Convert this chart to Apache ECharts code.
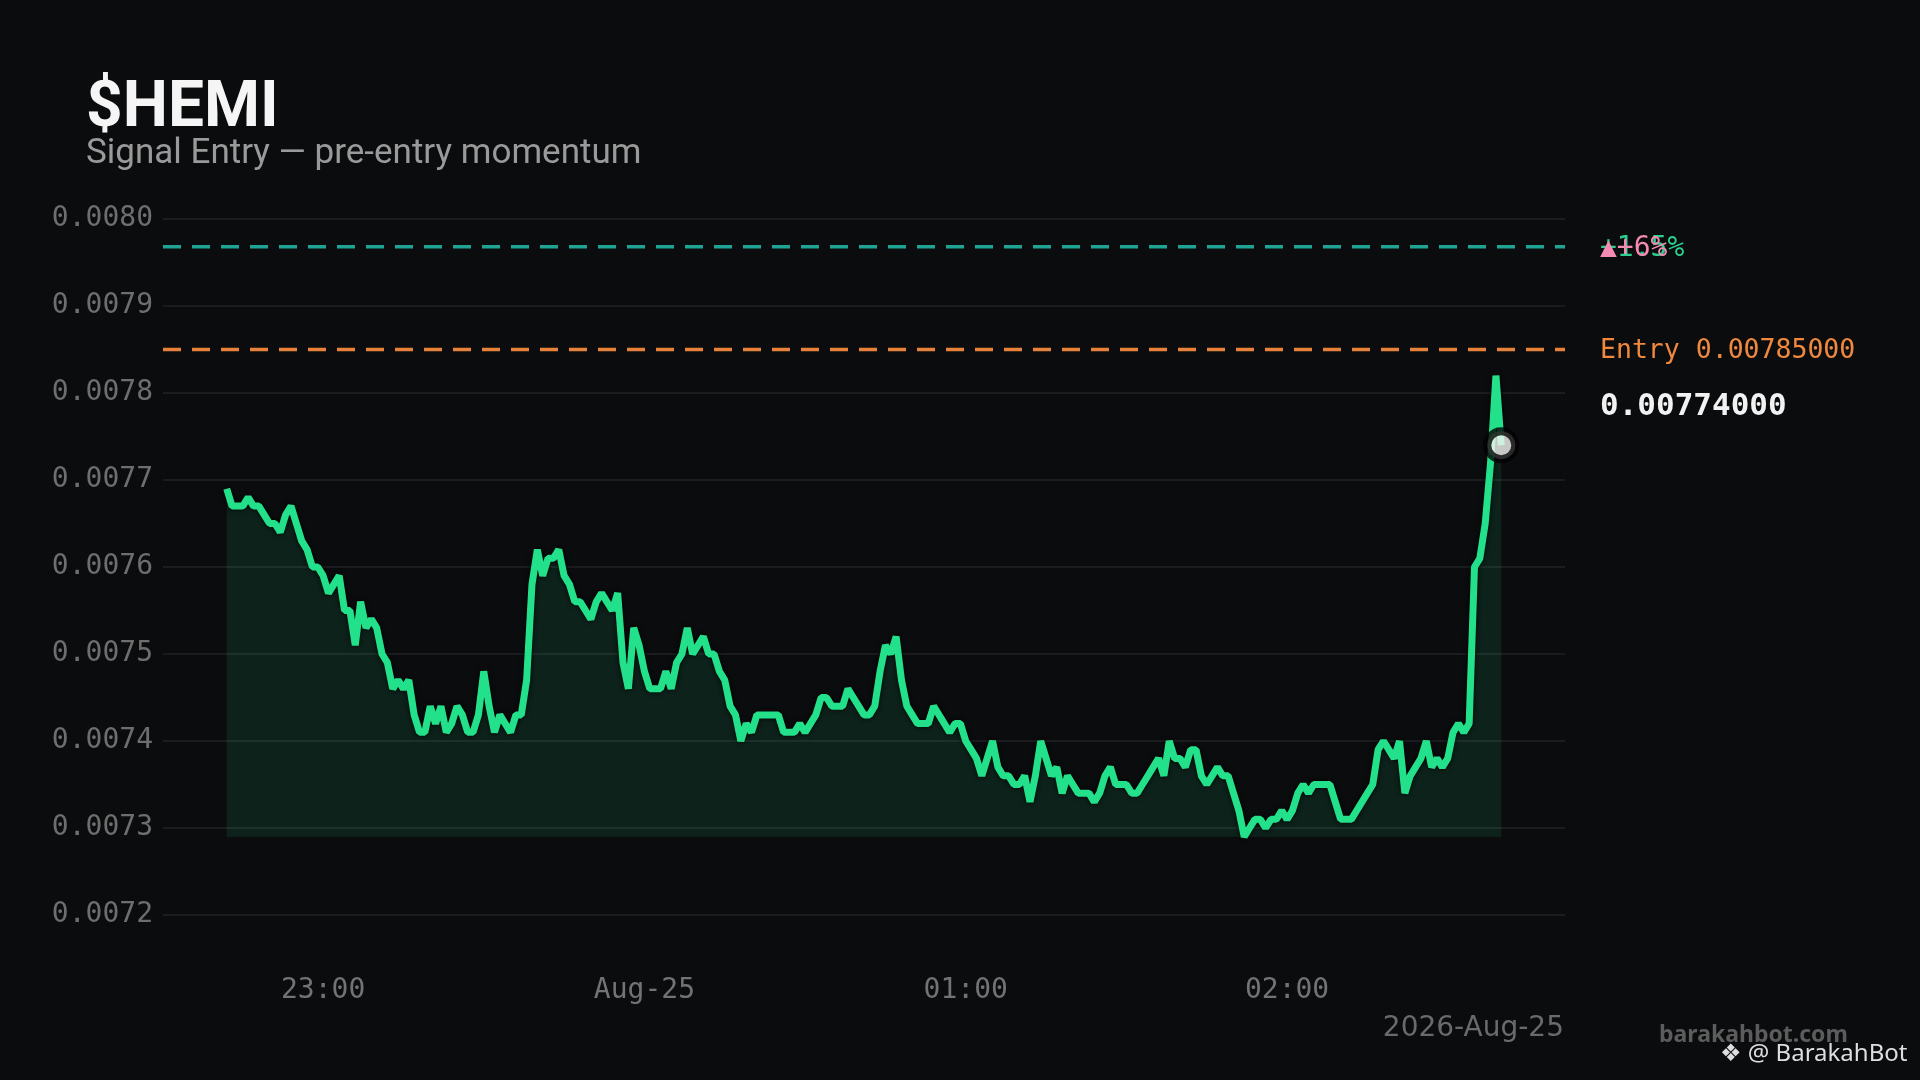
<!DOCTYPE html>
<html>
<head>
<meta charset="utf-8">
<script src="https://cdn.jsdelivr.net/npm/echarts@6/dist/echarts.min.js"></script>
<style>
  html, body { margin: 0; padding: 0; background: #0b0c0e; }
  #chart { width: 1920px; height: 1080px; }
</style>
</head>
<body>
<div id="chart"></div>
<script>
// 1-minute closes, 22:42 -> 02:40
const startTime = new Date(2026, 7, 24, 22, 42).getTime();
const stepMs = 60 * 1000;

const prices = [
  0.00769, 0.00767, 0.00767, 0.00767, 0.00768, 0.00767, 0.00767, 0.00766, 0.00765, 0.00765,
  0.00764, 0.00766, 0.00767, 0.00765, 0.00763, 0.00762, 0.00760, 0.00760, 0.00759, 0.00757,
  0.00758, 0.00759, 0.00755, 0.00755, 0.00751, 0.00756, 0.00753, 0.00754, 0.00753, 0.00750,
  0.00749, 0.00746, 0.00747, 0.00746, 0.00747, 0.00743, 0.00741, 0.00741, 0.00744, 0.00742,
  0.00744, 0.00741, 0.00742, 0.00744, 0.00743, 0.00741, 0.00741, 0.00743, 0.00748, 0.00744,
  0.00741, 0.00743, 0.00742, 0.00741, 0.00743, 0.00743, 0.00747, 0.00758, 0.00762, 0.00759,
  0.00761, 0.00761, 0.00762, 0.00759, 0.00758, 0.00756, 0.00756, 0.00755, 0.00754, 0.00756,
  0.00757, 0.00756, 0.00755, 0.00757, 0.00749, 0.00746, 0.00753, 0.00751, 0.00748, 0.00746,
  0.00746, 0.00746, 0.00748, 0.00746, 0.00749, 0.00750, 0.00753, 0.00750, 0.00751, 0.00752,
  0.00750, 0.00750, 0.00748, 0.00747, 0.00744, 0.00743, 0.00740, 0.00742, 0.00741, 0.00743,
  0.00743, 0.00743, 0.00743, 0.00743, 0.00741, 0.00741, 0.00741, 0.00742, 0.00741, 0.00742,
  0.00743, 0.00745, 0.00745, 0.00744, 0.00744, 0.00744, 0.00746, 0.00745, 0.00744, 0.00743,
  0.00743, 0.00744, 0.00748, 0.00751, 0.00750, 0.00752, 0.00747, 0.00744, 0.00743, 0.00742,
  0.00742, 0.00742, 0.00744, 0.00743, 0.00742, 0.00741, 0.00742, 0.00742, 0.00740, 0.00739,
  0.00738, 0.00736, 0.00738, 0.00740, 0.00737, 0.00736, 0.00736, 0.00735, 0.00735, 0.00736,
  0.00733, 0.00736, 0.00740, 0.00738, 0.00736, 0.00737, 0.00734, 0.00736, 0.00735, 0.00734,
  0.00734, 0.00734, 0.00733, 0.00734, 0.00736, 0.00737, 0.00735, 0.00735, 0.00735, 0.00734,
  0.00734, 0.00735, 0.00736, 0.00737, 0.00738, 0.00736, 0.00740, 0.00738, 0.00738, 0.00737,
  0.00739, 0.00739, 0.00736, 0.00735, 0.00736, 0.00737, 0.00736, 0.00736, 0.00734, 0.00732,
  0.00729, 0.00730, 0.00731, 0.00731, 0.00730, 0.00731, 0.00731, 0.00732, 0.00731, 0.00732,
  0.00734, 0.00735, 0.00734, 0.00735, 0.00735, 0.00735, 0.00735, 0.00733, 0.00731, 0.00731,
  0.00731, 0.00732, 0.00733, 0.00734, 0.00735, 0.00739, 0.00740, 0.00739, 0.00738, 0.00740,
  0.00734, 0.00736, 0.00737, 0.00738, 0.00740, 0.00737, 0.00738, 0.00737, 0.00738, 0.00741,
  0.00742, 0.00741, 0.00742, 0.00760, 0.00761, 0.00765, 0.00772, 0.00782, 0.00774
];

const entryPrice = 0.00785;
const tpPrice = 0.007968;
const tpLabel = "+1.5%";
const upLabel = "\u25B2+6%";
const yTicks = { min: 0.0072, max: 0.0080, step: 0.0001 };

const BG = "#0b0c0e";
const GREEN = "#23e08b";
const MONO = "DejaVu Sans Mono";

const points = prices.map((p, i) => [startTime + i * stepMs, p]);
const endTime = points[points.length - 1][0];
const pad = (endTime - startTime) * 0.05;
const xMin = startTime - pad;
const xMax = endTime + pad;
const lastPoint = points[points.length - 1];
const lowest = Math.min(...prices);

const chart = echarts.init(document.getElementById("chart"), null, { renderer: "canvas" });

// horizontal level drawn across the whole x range, label at its right end
function level(value, color, text, textColor, visible, size){
  return {
    type: "line",
    data: [[xMin, value], [xMax, value]],
    showSymbol: false,
    silent: true,
    clip: false,
    z: 1,
    lineStyle: { color: color, width: 3.5, type: [18, 11], opacity: visible ? 1 : 0 },
    endLabel: {
      show: true, distance: 35, formatter: text, offset: [0, 2],
      color: textColor, fontFamily: MONO, fontSize: size
    }
  };
}

const option = {
  backgroundColor: BG,
  animation: false,
  grid: { left: 163, right: 355, top: 219, bottom: 165, outerBoundsMode: "none" },
  xAxis: {
    type: "time",
    min: xMin,
    max: xMax,
    minInterval: 3600 * 1000,
    maxInterval: 3600 * 1000,
    axisLine: { show: false },
    axisTick: { show: false },
    splitLine: { show: false },
    axisLabel: {
      margin: 62,
      color: "#737373",
      fontFamily: MONO,
      fontSize: 28,
      showMinLabel: false,
      showMaxLabel: false,
      formatter: (val) => {
        const d = new Date(val);
        const h = d.getHours();
        if (h === 0) return "Aug-25";
        return String(h).padStart(2, "0") + ":00";
      }
    }
  },
  yAxis: {
    type: "value",
    min: yTicks.min,
    max: yTicks.max,
    interval: yTicks.step,
    axisLine: { show: false },
    axisTick: { show: false },
    splitLine: { lineStyle: { color: "#1b1c1f", width: 2 } },
    axisLabel: {
      margin: 10,
      color: "#6e6e6e",
      fontFamily: MONO,
      fontSize: 28,
      formatter: (v) => v.toFixed(4)
    }
  },
  series: [
    level(tpPrice, "#1fa393", tpLabel, "#2bcf8f", true, 28),
    level(tpPrice, "#f58bb2", upLabel, "#f58bb2", false, 28),
    level(entryPrice, "#e8823a", "Entry " + entryPrice.toFixed(8), "#f0883e", true, 26.5),
    {
      type: "line",
      data: points,
      showSymbol: false,
      z: 3,
      lineStyle: {
        color: GREEN,
        width: 7,
        shadowColor: "rgba(0,0,0,0.9)",
        shadowBlur: 5
      },
      areaStyle: { color: "rgba(34,224,138,0.15)", origin: lowest }
    },
    {
      type: "scatter",
      data: [lastPoint],
      symbol: "circle",
      symbolSize: 28,
      itemStyle: { color: "#f6f6f4", borderColor: "#030303", borderWidth: 8 },
      z: 5
    }
  ],
  graphic: [
    { type: "text", left: 86, top: 78,
      style: { text: "$HEMI", fill: "#f5f5f5", font: "bold 64px Roboto" } },
    { type: "text", left: 86, top: 137,
      style: { text: "Signal Entry \u2014 pre-entry momentum", fill: "#9a9a9a", font: "35px Roboto" } },
    { type: "text", left: 1600, top: 391,
      style: { text: lastPoint[1].toFixed(8), fill: "#f2f2f2", font: "bold 31px 'DejaVu Sans Mono'" } },
    { type: "text", right: 356, top: 1015,
      style: { text: "2026-Aug-25", fill: "#6a6a6a", font: "28px 'DejaVu Sans'", align: "right" } },
    { type: "text", left: 1659, top: 1024,
      style: { text: "barakahbot.com", fill: "#5c5c5c", font: "bold 23px 'Noto Sans'" } },
    { type: "text", left: 1720, top: 1042,
      style: { text: "\u2756 @ BarakahBot", fill: "#dedede", font: "24px 'Noto Sans', 'DejaVu Sans'" } }
  ]
};

chart.setOption(option);
window.addEventListener("resize", () => chart.resize());
</script>
</body>
</html>
